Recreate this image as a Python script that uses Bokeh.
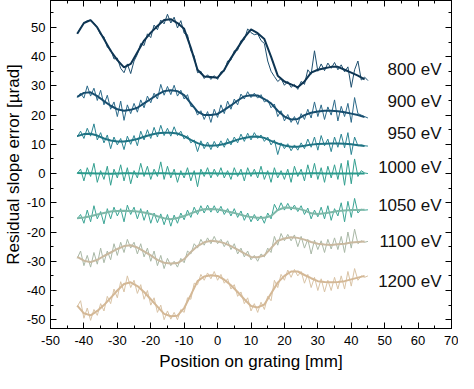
from bokeh.plotting import figure
from bokeh.models import LinearAxis, SingleIntervalTicker, FixedTicker
from bokeh.core.properties import value
from bokeh.embed import file_html
from bokeh.resources import INLINE

# ---------------- data ----------------
energies = ["800 eV", "900 eV", "950 eV", "1000 eV", "1050 eV", "1100 eV", "1200 eV"]

x_noisy = list(range(-42, 46))      # position on grating [mm], measured
x_smooth = list(range(-42, 45, 2))  # position on grating [mm], fitted

s800 = [47.8, 51.5, 52.5, 50.0, 46.0, 42.0, 38.8, 36.3, 37.5, 41.5,
        45.5, 48.2, 50.5, 52.5, 52.8, 51.5, 49.5, 43.0, 35.5, 33.2,
        33.0, 32.8, 35.5, 39.5, 43.0, 46.5, 49.3, 48.0, 46.0, 40.0,
        33.5, 31.5, 30.5, 29.5, 31.5, 34.5, 35.5, 36.0, 36.5, 36.5,
        35.5, 34.5, 33.5, 32.2]
n800 = [47.8, 49.8, 51.5, 52.3, 52.5, 51.5, 50.0, 47.5, 46.8, 43.2,
        42.5, 39.2, 39.5, 36.0, 34.5, 37.5, 34.2, 38.5, 40.8, 44.5,
        43.8, 47.8, 46.5, 50.8, 49.2, 52.5, 51.2, 54.5, 51.5, 53.5,
        49.8, 52.3, 48.0, 47.5, 42.0, 40.2, 34.5, 35.0, 32.5, 33.8,
        32.2, 33.5, 32.2, 34.8, 35.0, 38.5, 38.8, 42.0, 42.2, 45.5,
        45.8, 49.5, 48.2, 47.5, 47.8, 45.5, 44.5, 38.5, 35.0, 33.2,
        31.5, 32.5, 30.2, 31.5, 29.5, 30.5, 28.8, 31.5, 30.5, 35.5,
        34.0, 42.0, 35.0, 37.5, 35.2, 37.8, 36.0, 38.0, 35.5, 37.2,
        34.8, 36.5, 29.5, 35.5, 38.5, 32.0, 33.0, 31.8]

s900 = [26.2, 27.6, 27.8, 26.5, 24.8, 23.2, 22.0, 21.5, 21.8, 22.5,
        24.0, 25.5, 27.0, 28.2, 28.5, 28.2, 26.8, 24.0, 21.2, 20.0,
        20.0, 20.4, 21.8, 23.3, 25.0, 26.4, 26.8, 26.7, 25.5, 24.0,
        21.5, 19.5, 18.5, 18.7, 20.0, 20.8, 21.2, 21.5, 21.5, 21.3,
        21.0, 20.5, 20.0, 19.3]
n900 = [26.0, 27.5, 25.8, 30.0, 26.5, 29.2, 25.0, 28.5, 23.5, 26.8,
        22.0, 24.5, 19.5, 24.8, 18.2, 23.5, 20.5, 24.0, 21.0, 25.2,
        22.5, 26.5, 24.2, 27.5, 25.5, 30.5, 26.8, 29.8, 27.0, 30.2,
        26.5, 28.5, 25.5, 27.0, 23.0, 22.8, 20.0, 21.5, 18.5, 21.2,
        17.5, 22.0, 19.2, 23.5, 20.5, 24.8, 22.0, 25.5, 23.5, 27.2,
        25.5, 28.0, 26.0, 27.5, 25.8, 27.0, 24.5, 25.2, 22.5, 23.8,
        19.5, 21.5, 18.0, 20.2, 17.5, 19.5, 16.8, 20.5, 18.5, 22.0,
        19.0, 24.5, 19.5, 23.5, 18.5, 22.8, 20.0, 25.2, 18.0, 23.0,
        19.5, 24.0, 17.5, 26.0, 20.5, 20.0, 19.5, 19.0]

s950 = [12.8, 13.5, 13.6, 13.0, 12.0, 11.3, 11.0, 11.0, 11.3, 11.8,
        12.6, 13.3, 13.8, 14.0, 14.0, 13.7, 12.8, 11.5, 10.4, 9.7,
        9.5, 9.7, 10.1, 10.8, 11.6, 12.2, 12.6, 12.7, 12.2, 11.2,
        10.3, 9.6, 9.2, 9.2, 9.5, 9.9, 10.1, 10.2, 10.3, 10.3,
        10.2, 10.0, 9.7, 9.4]
n950 = [12.5, 14.5, 12.0, 15.5, 12.8, 17.0, 11.5, 14.0, 10.5, 13.2,
        8.5, 12.5, 9.8, 12.0, 8.2, 12.8, 10.0, 13.0, 9.5, 14.5,
        11.5, 15.0, 12.0, 15.8, 12.5, 16.5, 13.0, 15.5, 12.8, 16.0,
        13.0, 14.5, 11.8, 13.0, 10.5, 11.5, 7.5, 11.2, 8.5, 10.8,
        8.2, 11.0, 8.8, 11.2, 9.0, 12.0, 9.8, 12.5, 10.5, 13.5,
        11.0, 13.8, 11.5, 14.0, 12.0, 13.2, 11.0, 12.5, 9.8, 11.5,
        6.5, 10.5, 8.5, 10.2, 7.8, 9.8, 8.0, 10.5, 8.5, 11.8,
        9.0, 12.5, 8.0, 13.0, 9.5, 11.8, 7.5, 12.5, 9.0, 13.5,
        8.8, 14.0, 6.5, 12.5, 9.5, 9.8, 9.5, 9.4]

s1000 = [0.2, 0.1, 0.1, 0.0, 0.0, -0.1, 0.0, 0.1, 0.1, 0.0,
         0.0, 0.0, 0.1, 0.1, 0.0, -0.1, -0.1, 0.0, 0.0, 0.1,
         0.1, 0.0, 0.0, -0.1, -0.1, 0.0, 0.0, 0.1, 0.1, 0.0,
         0.0, -0.1, -0.1, 0.0, 0.0, 0.1, 0.1, 0.0, 0.0, 0.0,
         0.0, 0.0, 0.0, 0.0]
n1000 = [0.0, 1.5, -2.5, 2.0, -1.0, 3.5, -3.0, 1.0, -2.0, 2.5,
         -4.0, 1.5, -1.5, 3.0, -2.5, 2.0, -3.5, 1.0, -1.5, 3.5,
         -1.0, 2.5, -2.0, 1.5, -1.0, 4.0, -2.0, 2.5, -1.5, 1.5,
         -3.0, 1.0, -1.5, 2.0, -2.5, 1.0, -4.5, 1.5, -1.0, 2.0,
         -1.5, 1.5, -1.0, 2.0, -1.5, 1.0, -2.0, 2.0, -1.0, 1.5,
         -2.5, 2.0, -1.0, 1.5, -1.5, 2.5, -2.0, 1.0, -3.0, 2.0,
         -1.5, 1.0, -2.0, 1.5, -3.0, 2.5, -1.0, 1.5, -2.5, 3.0,
         -1.5, 3.5, -2.0, 2.0, -3.0, 2.5, -1.5, 3.0, -2.0, 3.5,
         -4.0, 4.5, -3.5, 5.0, -1.0, 1.0, 0.2, 0.0]

s1050 = [-15.3, -15.0, -14.6, -14.0, -13.5, -13.0, -12.8, -12.7, -12.8, -13.0,
         -13.3, -13.8, -14.6, -15.3, -15.6, -15.2, -14.5, -13.6, -12.8, -12.2,
         -12.1, -12.3, -12.7, -13.2, -13.8, -14.4, -14.9, -15.1, -15.1, -14.5,
         -12.5, -11.6, -11.7, -12.0, -12.6, -13.6, -13.8, -13.6, -13.2, -12.8,
         -12.6, -12.5, -12.5, -12.4]
n1050 = [-15.5, -14.0, -17.0, -12.5, -16.5, -11.0, -15.5, -13.0, -17.2, -12.0,
         -15.5, -11.5, -14.5, -12.0, -16.5, -10.8, -14.0, -11.5, -15.5, -12.0,
         -16.0, -12.5, -17.0, -13.5, -16.8, -13.8, -17.5, -14.0, -18.0, -14.2,
         -17.0, -13.5, -15.8, -12.5, -15.0, -11.5, -14.0, -11.0, -13.5, -10.8,
         -13.2, -11.0, -13.5, -11.2, -14.0, -12.0, -14.5, -12.0, -15.0, -12.8,
         -16.0, -13.5, -16.5, -14.0, -16.2, -14.5, -17.0, -13.5, -15.5, -10.5,
         -12.8, -10.0, -12.5, -10.2, -12.5, -10.8, -13.0, -11.0, -14.0, -11.8,
         -15.5, -12.5, -14.8, -11.5, -15.5, -11.0, -16.0, -12.0, -14.5, -10.0,
         -16.5, -9.5, -15.0, -8.5, -13.5, -12.2, -12.5, -12.4]

s1100 = [-28.5, -29.8, -30.3, -29.5, -28.2, -27.0, -25.8, -24.8, -24.5, -25.3,
         -26.6, -28.0, -29.5, -30.5, -30.8, -30.6, -29.3, -26.8, -24.8, -23.5,
         -23.0, -23.2, -23.8, -24.8, -26.0, -27.3, -28.5, -28.6, -28.0, -25.5,
         -23.0, -22.2, -21.8, -22.0, -22.6, -23.4, -24.0, -24.3, -24.4, -24.2,
         -24.0, -23.6, -23.4, -23.2]
n1100 = [-29.0, -26.5, -31.5, -28.0, -32.0, -27.0, -31.0, -25.5, -30.5, -26.5,
         -29.5, -24.0, -28.0, -23.5, -27.0, -22.5, -25.5, -23.5, -27.5, -24.0,
         -28.5, -25.5, -30.0, -26.5, -31.5, -28.0, -32.5, -29.0, -31.5, -30.0,
         -32.0, -29.0, -30.5, -26.5, -27.5, -24.0, -25.5, -22.5, -24.5, -22.0,
         -24.0, -21.5, -24.0, -22.5, -25.0, -23.0, -26.0, -24.0, -27.5, -25.5,
         -28.5, -26.5, -29.5, -28.0, -30.0, -27.5, -28.5, -25.5, -27.0, -21.5,
         -24.5, -20.5, -23.0, -20.8, -23.0, -21.0, -25.0, -21.5, -25.5, -22.5,
         -27.5, -22.8, -26.0, -23.0, -27.0, -22.5, -25.8, -22.0, -26.0, -21.5,
         -27.0, -20.0, -25.5, -19.0, -24.0, -23.0, -23.5, -23.2]

s1200 = [-45.2, -47.8, -48.5, -47.0, -45.0, -42.5, -40.0, -37.8, -37.2, -38.5,
         -40.5, -43.0, -45.5, -48.0, -48.8, -48.6, -46.0, -41.5, -36.8, -35.2,
         -34.8, -35.0, -36.3, -38.2, -40.5, -43.0, -45.3, -45.8, -44.8, -41.0,
         -37.3, -35.0, -33.5, -33.5, -34.7, -35.8, -36.8, -37.1, -37.2, -37.1,
         -36.8, -36.2, -35.6, -35.0]
n1200 = [-45.5, -43.5, -49.5, -46.0, -50.2, -46.5, -48.5, -44.5, -47.0, -42.0,
         -44.5, -39.5, -42.5, -37.0, -40.5, -35.0, -39.0, -36.5, -41.0, -38.0,
         -43.0, -40.0, -45.0, -42.5, -47.5, -45.0, -50.0, -47.0, -49.8, -47.5,
         -50.0, -46.5, -47.5, -42.5, -43.0, -37.5, -38.0, -34.5, -36.5, -34.0,
         -36.0, -33.5, -36.5, -34.5, -37.5, -36.0, -39.5, -38.0, -42.0, -40.5,
         -44.5, -42.5, -47.0, -44.5, -47.5, -44.0, -46.5, -42.0, -43.5, -36.5,
         -39.0, -34.5, -36.5, -33.0, -35.5, -32.8, -35.0, -33.5, -37.5, -34.5,
         -39.0, -35.5, -40.0, -36.0, -40.5, -36.5, -40.0, -35.5, -39.5, -35.0,
         -39.5, -33.5, -38.5, -32.5, -36.5, -35.0, -35.5, -35.0]

smooth_series = [s800, s900, s950, s1000, s1050, s1100, s1200]
noisy_series = [n800, n900, n950, n1000, n1050, n1100, n1200]

# styling
smooth_colors = ["#0e3553", "#174d6e", "#1f7384", "#2a9a8c", "#7db8a8", "#c9b9a0", "#d4b896"]
noisy_colors = ["#1f5070", "#2c6a8a", "#2b8593", "#33a090", "#3ba595", "#a9b8a6", "#d9c3a5"]
label_y = [35.6, 24.7, 13.7, 2.1, -10.9, -23.2, -36.8]
FONT = "Liberation Sans"
X0, X1, Y0, Y1 = -50, 70, -53, 59.2

p = figure(width=458, height=373, x_range=(X0, X1), y_range=(Y0, Y1),
           output_backend="svg", toolbar_location=None,
           min_border_left=49, min_border_right=7, min_border_top=0, min_border_bottom=45)
p.xgrid.visible = False
p.ygrid.visible = False
p.outline_line_color = "black"
p.background_fill_color = "white"
p.border_fill_color = "white"

for ys, c in zip(noisy_series, noisy_colors):
    p.line(x_noisy, ys, line_color=c, line_width=1)
for ys, c in zip(smooth_series, smooth_colors):
    p.line(x_smooth, ys, line_color=c, line_width=2)

p.text(x=[67] * len(energies), y=label_y, text=energies, text_align="right",
       text_baseline="middle", text_font=value(FONT), text_font_size=value("17px"),
       text_color="#111111")


def base_style(ax):
    ax.axis_line_color = "black"
    ax.major_tick_line_color = "black"
    ax.minor_tick_line_color = "black"
    ax.major_tick_in = 6
    ax.major_tick_out = 0
    ax.minor_tick_in = 3
    ax.minor_tick_out = 0


def label_style(ax):
    ax.ticker = SingleIntervalTicker(interval=10, num_minor_ticks=2)
    base_style(ax)
    ax.major_label_text_font = FONT
    ax.major_label_text_font_size = "13px"
    ax.major_label_text_color = "black"
    ax.axis_label_text_font = FONT
    ax.axis_label_text_font_size = "17px"
    ax.axis_label_text_font_style = "normal"
    ax.axis_label_text_color = "black"
    ax.major_label_overrides = {t: "-%d" % -t for t in range(-50, 0, 10)}


label_style(p.xaxis[0])
label_style(p.yaxis[0])
p.xaxis[0].axis_label = "Position on grating [mm]"
p.xaxis[0].major_label_standoff = 7
p.xaxis[0].axis_label_standoff = 4
p.yaxis[0].axis_label = "Residual slope error [µrad]"
p.yaxis[0].major_label_standoff = 5
p.yaxis[0].axis_label_standoff = 1

# mirrored tick marks on the top and right sides (no labels)
xt_major = list(range(X0, X1 + 1, 10))
xt_minor = list(range(X0 + 5, X1, 10))
yt_major = list(range(-50, 51, 10))
yt_minor = list(range(-45, 56, 10))
for side, majors, minors in [("above", xt_major, xt_minor), ("right", yt_major, yt_minor)]:
    for ticks, length in [(majors, 6), (minors, 3)]:
        ax = LinearAxis(ticker=FixedTicker(ticks=[], minor_ticks=ticks))
        base_style(ax)
        ax.minor_tick_in = length
        ax.major_label_standoff = 0
        p.add_layout(ax, side)

open("out.html", "w").write(file_html(p, INLINE))
